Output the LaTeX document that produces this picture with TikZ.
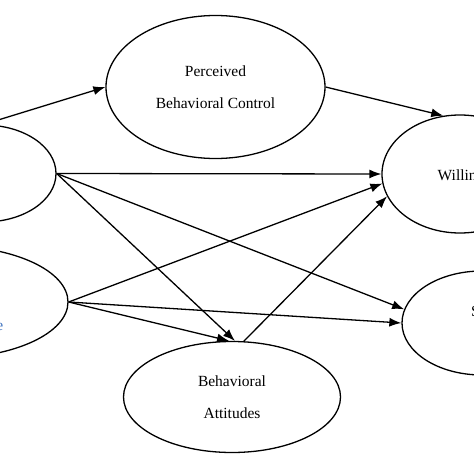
\documentclass[tikz,border=0pt]{standalone}
\usepackage{fontspec}
\setmainfont{Liberation Serif}
\usepackage{tikz}
\usetikzlibrary{shapes,arrows.meta}
\usetikzlibrary{positioning}
\definecolor{cutblue}{rgb}{.25,.45,.75}

\begin{document}
\begin{tikzpicture}[x=1pt, y=-1pt, >={Latex[length=12pt,width=9pt]}]

	\tikzset{construct/.style={ellipse, draw, line width=1.3pt, inner sep=0pt, align=center, font=\fontsize{15.5}{32}\selectfont}}
	\tikzset{link/.style={->, line width=1.3pt}}
	\tikzset{cuttext/.style={inner sep=0pt, font=\fontsize{15.5}{18}\selectfont}}

	% Rahmen
	\useasboundingbox (0,0) rectangle (474,474);
	\clip (0,0) rectangle (474,474);

	% Konstrukte
	\node[construct, minimum width=219pt, minimum height=143pt] (pbc) at (215.5,87) {Perceived\\Behavioral Control};
	\node[construct, minimum width=217pt, minimum height=111pt] (att) at (232,397) {Behavioral\\Attitudes};
	\node[construct, minimum width=144pt, minimum height=97pt] (lo) at (-16,173.5) {};
	\node[construct, minimum width=240pt, minimum height=112pt] (ll) at (-52,302) {};
	\node[construct, minimum width=156pt, minimum height=118pt] (will) at (460,174) {};
	\node[construct, minimum width=160pt, minimum height=104pt] (ri) at (482,323) {};

	% abgeschnittene Texte
	\node[cuttext, anchor=base west] (willtxt) at (437.5,180) {Willin};
	\node[cuttext, anchor=base west] (ritxt) at (471,316) {S};
	\node[cuttext, anchor=base east, text=cutblue] (lltxt) at (3.5,330) {e};

	% Pfade
	\draw[link] (lo.north) -- (pbc.west);
	\draw[link] (pbc.east) -- (will.106);
	\draw[link] (lo.east) -- (will.west);
	\draw[link] (lo.east) -- (ri.170);
	\draw[link] (lo.east) -- (att.87);
	\draw[link] (ll.east) -- (will.187);
	\draw[link] (ll.east) -- (ri.west);
	\draw[link] (ll.east) -- (att.93);
	\draw[link] (att.78) -- (will.197);
\end{tikzpicture}
\end{document}
